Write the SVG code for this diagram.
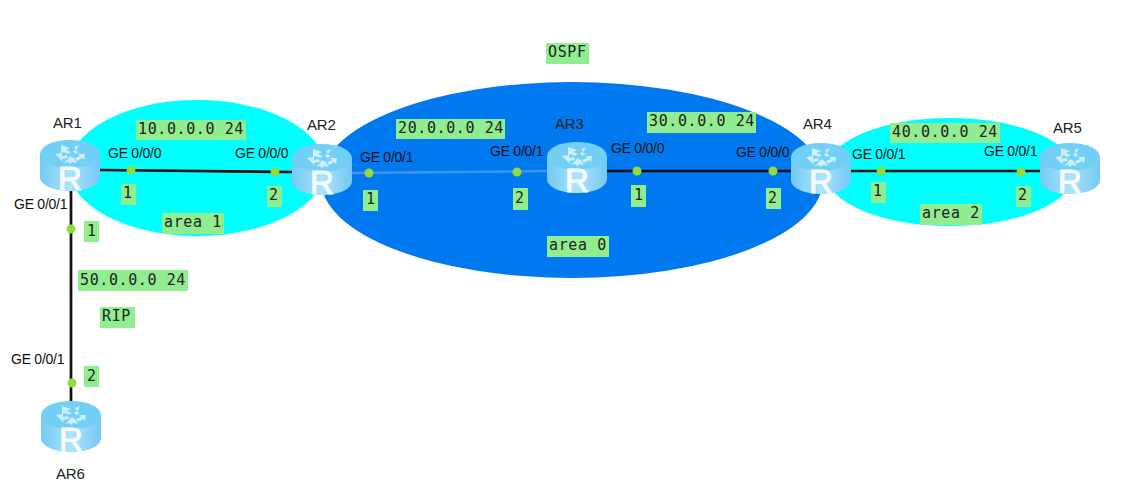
<svg xmlns="http://www.w3.org/2000/svg" width="1123" height="495" viewBox="0 0 1123 495">
<style>
.n{font:14px "Liberation Sans",Arial,sans-serif;fill:#111;letter-spacing:-.25px}
.h{font:15px "Liberation Sans",Arial,sans-serif;fill:#222;letter-spacing:-.2px}
.m{font:15px "DejaVu Sans Mono","Liberation Mono",monospace;fill:#222;letter-spacing:.6px}
.b{fill:#90ee90}
.l{stroke:#111;stroke-width:2.7;fill:none}
.d{fill:#90dc3a}
</style>
<defs>
<linearGradient id="body" x1="0" x2="1" y1="0" y2="0"><stop offset="0" stop-color="#74c9f5"/><stop offset=".5" stop-color="#aee3fb"/><stop offset="1" stop-color="#74c9f5"/></linearGradient>
<g id="router">
<path d="M0 14V37C0 45 13 51 30 51S60 45 60 37V14Z" fill="url(#body)"/>
<ellipse cx="30" cy="14" rx="30" ry="14" fill="#72d0f6"/>
<path d="M21 5l9 3-4 2 5 2-3 2-5-2-2 2zM39 5l-3 6 3 1-4 2-2-3 3-1-2-3zM15 14l7-1 0 3 5-1 1 3-6 1 1 3zM45 14l-1 6-2-2-5 3-2-3 5-2-2-2zM30 16l4 2 3 5-5-1-2 2-2-2-4 1 4-4z" fill="#e4f8fe" opacity=".8"/>
<text x="30" y="50" text-anchor="middle" style="font:33px 'Liberation Sans',Arial,sans-serif;fill:#f4fcff;stroke:#f4fcff;stroke-width:1">R</text>
</g>
</defs>
<rect width="1123" height="495" fill="#fff"/>
<g id="areas">
<ellipse cx="197" cy="168" rx="128" ry="68" fill="#00ffff"/>
<ellipse cx="950" cy="172" rx="125" ry="54" fill="#00ffff"/>
<ellipse cx="572" cy="180" rx="251" ry="98" fill="#0078f0"/>
</g>
<g id="connectors">
<path class="l" d="M100 170L292 172"/>
<path d="M352 173L547 171" stroke="#3f94f5" stroke-width="2.5" fill="none"/>
<path class="l" d="M607 171H791"/>
<path class="l" d="M851 171H1040"/>
<path class="l" d="M71 190V402"/>
<g class="dots">
<circle class="d" cx="131" cy="170" r="4.5"/><circle class="d" cx="275" cy="172" r="4.5"/>
<circle class="d" cx="369" cy="173" r="4.5"/><circle class="d" cx="517" cy="172" r="4.5"/>
<circle class="d" cx="637" cy="171" r="4.5"/><circle class="d" cx="773" cy="171" r="4.5"/>
<circle class="d" cx="881" cy="171" r="4.5"/><circle class="d" cx="1021" cy="172" r="4.5"/>
<circle class="d" cx="71" cy="229" r="4.5"/><circle class="d" cx="72" cy="383" r="4.5"/>
</g>
</g>
<g id="AR1"><use href="#router" x="40" y="140"/><text class="h" x="53" y="128">AR1</text></g>
<g id="AR2"><use href="#router" x="292" y="144"/><text class="h" x="307" y="130">AR2</text></g>
<g id="AR3"><use href="#router" x="547" y="142"/><text class="h" x="555" y="129">AR3</text></g>
<g id="AR4"><use href="#router" x="791" y="143"/><text class="h" x="803" y="129">AR4</text></g>
<g id="AR5"><use href="#router" x="1040" y="143"/><text class="h" x="1053" y="133">AR5</text></g>
<g id="AR6"><use href="#router" x="41" y="401"/><text class="h" x="56" y="479">AR6</text></g>
<g id="ports">
<text class="n" x="108" y="158">GE 0/0/0</text><text class="n" x="235" y="158">GE 0/0/0</text>
<text class="n" x="360" y="162">GE 0/0/1</text><text class="n" x="490" y="156">GE 0/0/1</text>
<text class="n" x="611" y="153">GE 0/0/0</text><text class="n" x="736" y="157">GE 0/0/0</text>
<text class="n" x="852" y="159">GE 0/0/1</text><text class="n" x="984" y="156">GE 0/0/1</text>
<text class="n" x="14" y="209">GE 0/0/1</text><text class="n" x="11" y="364">GE 0/0/1</text>
</g>
<g id="labels">
<rect class="b" x="546" y="43" width="43" height="21"/><text class="m" x="548" y="57">OSPF</text>
<rect class="b" x="136" y="120" width="110" height="20"/><text class="m" x="138" y="134">10.0.0.0 24</text>
<rect class="b" x="396" y="119" width="109" height="20"/><text class="m" x="398" y="133">20.0.0.0 24</text>
<rect class="b" x="647" y="112" width="109" height="21"/><text class="m" x="649" y="126">30.0.0.0 24</text>
<rect class="b" x="890" y="123" width="110" height="20"/><text class="m" x="892" y="137">40.0.0.0 24</text>
<rect class="b" x="78" y="270" width="110" height="21"/><text class="m" x="80" y="285">50.0.0.0 24</text>
<rect class="b" x="162" y="213" width="62" height="21"/><text class="m" x="164" y="227">area 1</text>
<rect class="b" x="547" y="236" width="62" height="21"/><text class="m" x="549" y="250">area 0</text>
<rect class="b" x="920" y="204" width="62" height="21"/><text class="m" x="922" y="218">area 2</text>
<rect class="b" x="100" y="307" width="35" height="21"/><text class="m" x="102" y="321">RIP</text>
<rect class="b" x="121" y="184" width="15" height="21"/><text class="m" x="123" y="198">1</text>
<rect class="b" x="267" y="186" width="15" height="21"/><text class="m" x="269" y="200">2</text>
<rect class="b" x="363" y="190" width="15" height="21"/><text class="m" x="366" y="204">1</text>
<rect class="b" x="513" y="188" width="15" height="22"/><text class="m" x="515" y="203">2</text>
<rect class="b" x="631" y="185" width="15" height="22"/><text class="m" x="634" y="200">1</text>
<rect class="b" x="766" y="188" width="15" height="21"/><text class="m" x="768" y="203">2</text>
<rect class="b" x="871" y="182" width="15" height="21"/><text class="m" x="873" y="196">1</text>
<rect class="b" x="1016" y="186" width="15" height="21"/><text class="m" x="1018" y="200">2</text>
<rect class="b" x="84" y="221" width="15" height="21"/><text class="m" x="87" y="236">1</text>
<rect class="b" x="84" y="366" width="15" height="21"/><text class="m" x="87" y="381">2</text>
</g>
</svg>
